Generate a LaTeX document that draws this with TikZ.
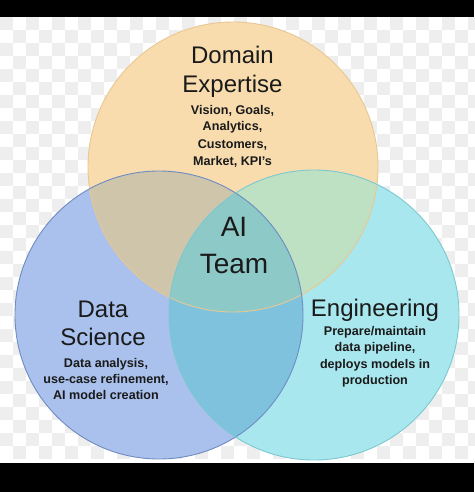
\documentclass[tikz,border=0pt]{standalone}
\usepackage{fontspec}
\setmainfont{Liberation Sans}
\definecolor{txt}{HTML}{1A1A1A}
\definecolor{chk}{HTML}{EEEEEE}
\definecolor{colT}{HTML}{F8DCAE}
\definecolor{colL}{HTML}{A9C1EC}
\definecolor{colR}{HTML}{A9E7EE}
\definecolor{colTL}{HTML}{CFC5AB}
\definecolor{colTR}{HTML}{BFE1C3}
\definecolor{colLR}{HTML}{7FC2DE}
\definecolor{colTLR}{HTML}{8DC9C7}
\definecolor{lineT}{HTML}{E8C892}
\definecolor{lineL}{HTML}{6F8CC2}
\definecolor{lineR}{HTML}{7CC8D0}
\begin{document}
\begin{tikzpicture}[x=1pt,y=-1pt,
  title/.style={font=\fontsize{24}{28}\selectfont, text=txt, inner sep=0pt, anchor=base},
  big/.style={font=\fontsize{28}{32}\selectfont, text=txt, inner sep=0pt, anchor=base},
  small/.style={font=\bfseries\fontsize{12.6}{15}\selectfont, text=txt, inner sep=0pt, anchor=base},
  ring/.style={line width=0.9pt}
]
\useasboundingbox (0,0) rectangle (474,492);
\fill[white] (0,0) rectangle (474,492);
% faint checkerboard background
\foreach \x in {0,26,...,468}{
  \foreach \y in {17,43,...,455}{
    \fill[chk] (\x,\y) rectangle ++(13,13);
    \fill[chk] (\x+13,\y+13) rectangle ++(13,13);
  }
}
\coordinate (cT) at (233,167);
\coordinate (cL) at (159,315);
\coordinate (cR) at (314,315);
% base fills
\fill[colT] (cT) circle[radius=145];
\fill[colL] (cL) circle[radius=144];
\fill[colR] (cR) circle[radius=145];
% pairwise overlaps
\begin{scope}
  \clip (cT) circle[radius=145];
  \fill[colTL] (cL) circle[radius=144];
  \fill[colTR] (cR) circle[radius=145];
\end{scope}
\begin{scope}
  \clip (cL) circle[radius=144];
  \fill[colLR] (cR) circle[radius=145];
\end{scope}
% triple overlap
\begin{scope}
  \clip (cT) circle[radius=145];
  \clip (cL) circle[radius=144];
  \fill[colTLR] (cR) circle[radius=145];
\end{scope}
% outlines
\draw[ring, lineT] (cT) circle[radius=145];
\draw[ring, lineL] (cL) circle[radius=144];
\draw[ring, lineR] (cR) circle[radius=145];
% black bars
\fill[black] (0,0) rectangle (474,17);
\fill[black] (0,463) rectangle (474,492);
% Domain Expertise
\node[title] (t1) at (232.5,64) {Domain};
\node[title] (t2) at (232.5,93) {Expertise};
\node[small] (t3) at (232.5,114) {Vision, Goals,};
\node[small] (t4) at (232.5,131) {Analytics,};
\node[small] (t5) at (232.5,148) {Customers,};
\node[small] (t6) at (232.5,165) {Market, KPI's};
% AI Team
\node[big] (a1) at (234,236) {AI};
\node[big] (a2) at (234,273) {Team};
% Data Science
\node[title] (d1) at (103,317) {Data};
\node[title] (d2) at (103,345) {Science};
\node[small] (d3) at (106,367) {Data analysis,};
\node[small] (d4) at (106,383) {use-case refinement,};
\node[small] (d5) at (106,399) {AI model creation};
% Engineering
\node[title] (e1) at (375,316) {Engineering};
\node[small] (e2) at (375,335) {Prepare/maintain};
\node[small] (e3) at (375,351) {data pipeline,};
\node[small] (e4) at (375,368) {deploys models in};
\node[small] (e5) at (375,384) {production};
\end{tikzpicture}
\end{document}
